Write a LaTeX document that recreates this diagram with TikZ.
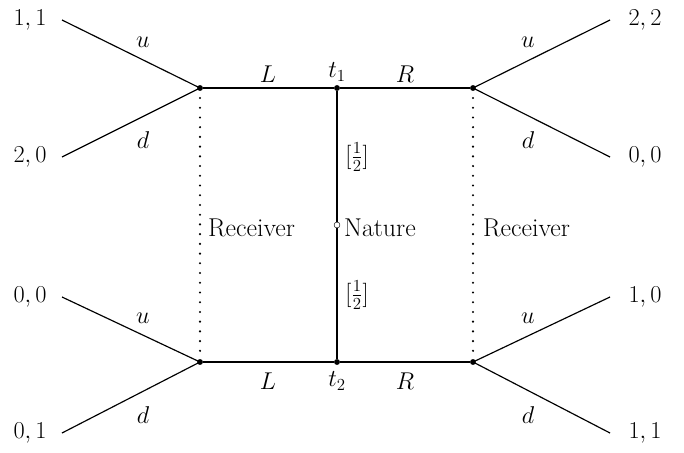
\documentclass[tikz,border=0pt]{standalone}
\begin{document}
\begin{tikzpicture}[x=0.03cm,y=-0.03cm,
  dot/.style={circle,fill,inner sep=0pt,minimum size=5pt},
  lab/.style={font=\fontsize{22}{26}\selectfont},
  ln/.style={line width=1pt},
  dots/.style={line width=2pt,line cap=round,dash pattern=on 0pt off 8.3pt}]
\useasboundingbox (0,0) rectangle (684,452);
\node[dot] (tl) at (200,88) {};
\node[dot] (t1) at (337,88) {};
\node[dot] (tr) at (473,88) {};
\node[dot] (bl) at (200,362) {};
\node[dot] (t2) at (337,362) {};
\node[dot] (br) at (473,362) {};
\node[circle,draw,fill=white,inner sep=0pt,minimum size=5pt] (n) at (337,225) {};
\coordinate (a1) at (62,20); \coordinate (a2) at (62,157);
\coordinate (a3) at (62,297); \coordinate (a4) at (62,433);
\coordinate (b1) at (610,20); \coordinate (b2) at (610,157);
\coordinate (b3) at (610,297); \coordinate (b4) at (610,433);
\draw[ln] (a1)--(tl.center)--(a2); \draw[ln] (a3)--(bl.center)--(a4);
\draw[ln] (b1)--(tr.center)--(b2); \draw[ln] (b3)--(br.center)--(b4);
\draw[ln] (tl)--(t1)--(tr); \draw[ln] (bl)--(t2)--(br);
\draw[ln] (t1)--(n)--(t2);
\draw[dots] (200,98)--(200,355); \draw[dots] (473,98)--(473,355);
\node[lab] at (30,20) {$1,1$}; \node[lab] at (30,157) {$2,0$};
\node[lab] at (30,297) {$0,0$}; \node[lab] at (30,433) {$0,1$};
\node[lab] at (645,20) {$2,2$}; \node[lab] at (645,157) {$0,0$};
\node[lab] at (645,297) {$1,0$}; \node[lab] at (645,433) {$1,1$};
\node[lab] at (143,42) {$u$}; \node[lab] at (143,140) {$d$};
\node[lab] at (143,318) {$u$}; \node[lab] at (143,415) {$d$};
\node[lab] at (528,42) {$u$}; \node[lab] at (528,140) {$d$};
\node[lab] at (528,318) {$u$}; \node[lab] at (528,415) {$d$};
\node[lab] at (268,74) {$L$}; \node[lab] at (405,74) {$R$};
\node[lab] at (337,72) {$t_1$};
\node[lab] at (268,381) {$L$}; \node[lab] at (405,381) {$R$};
\node[lab] at (337,381) {$t_2$};
\node[lab] at (357,157) {$[\frac{1}{2}]$}; \node[lab] at (357,295) {$[\frac{1}{2}]$};
\node[lab,anchor=west] at (204,228) {Receiver};
\node[lab,anchor=west] at (340,228) {Nature};
\node[lab,anchor=west] at (479,228) {Receiver};
\end{tikzpicture}
\end{document}
